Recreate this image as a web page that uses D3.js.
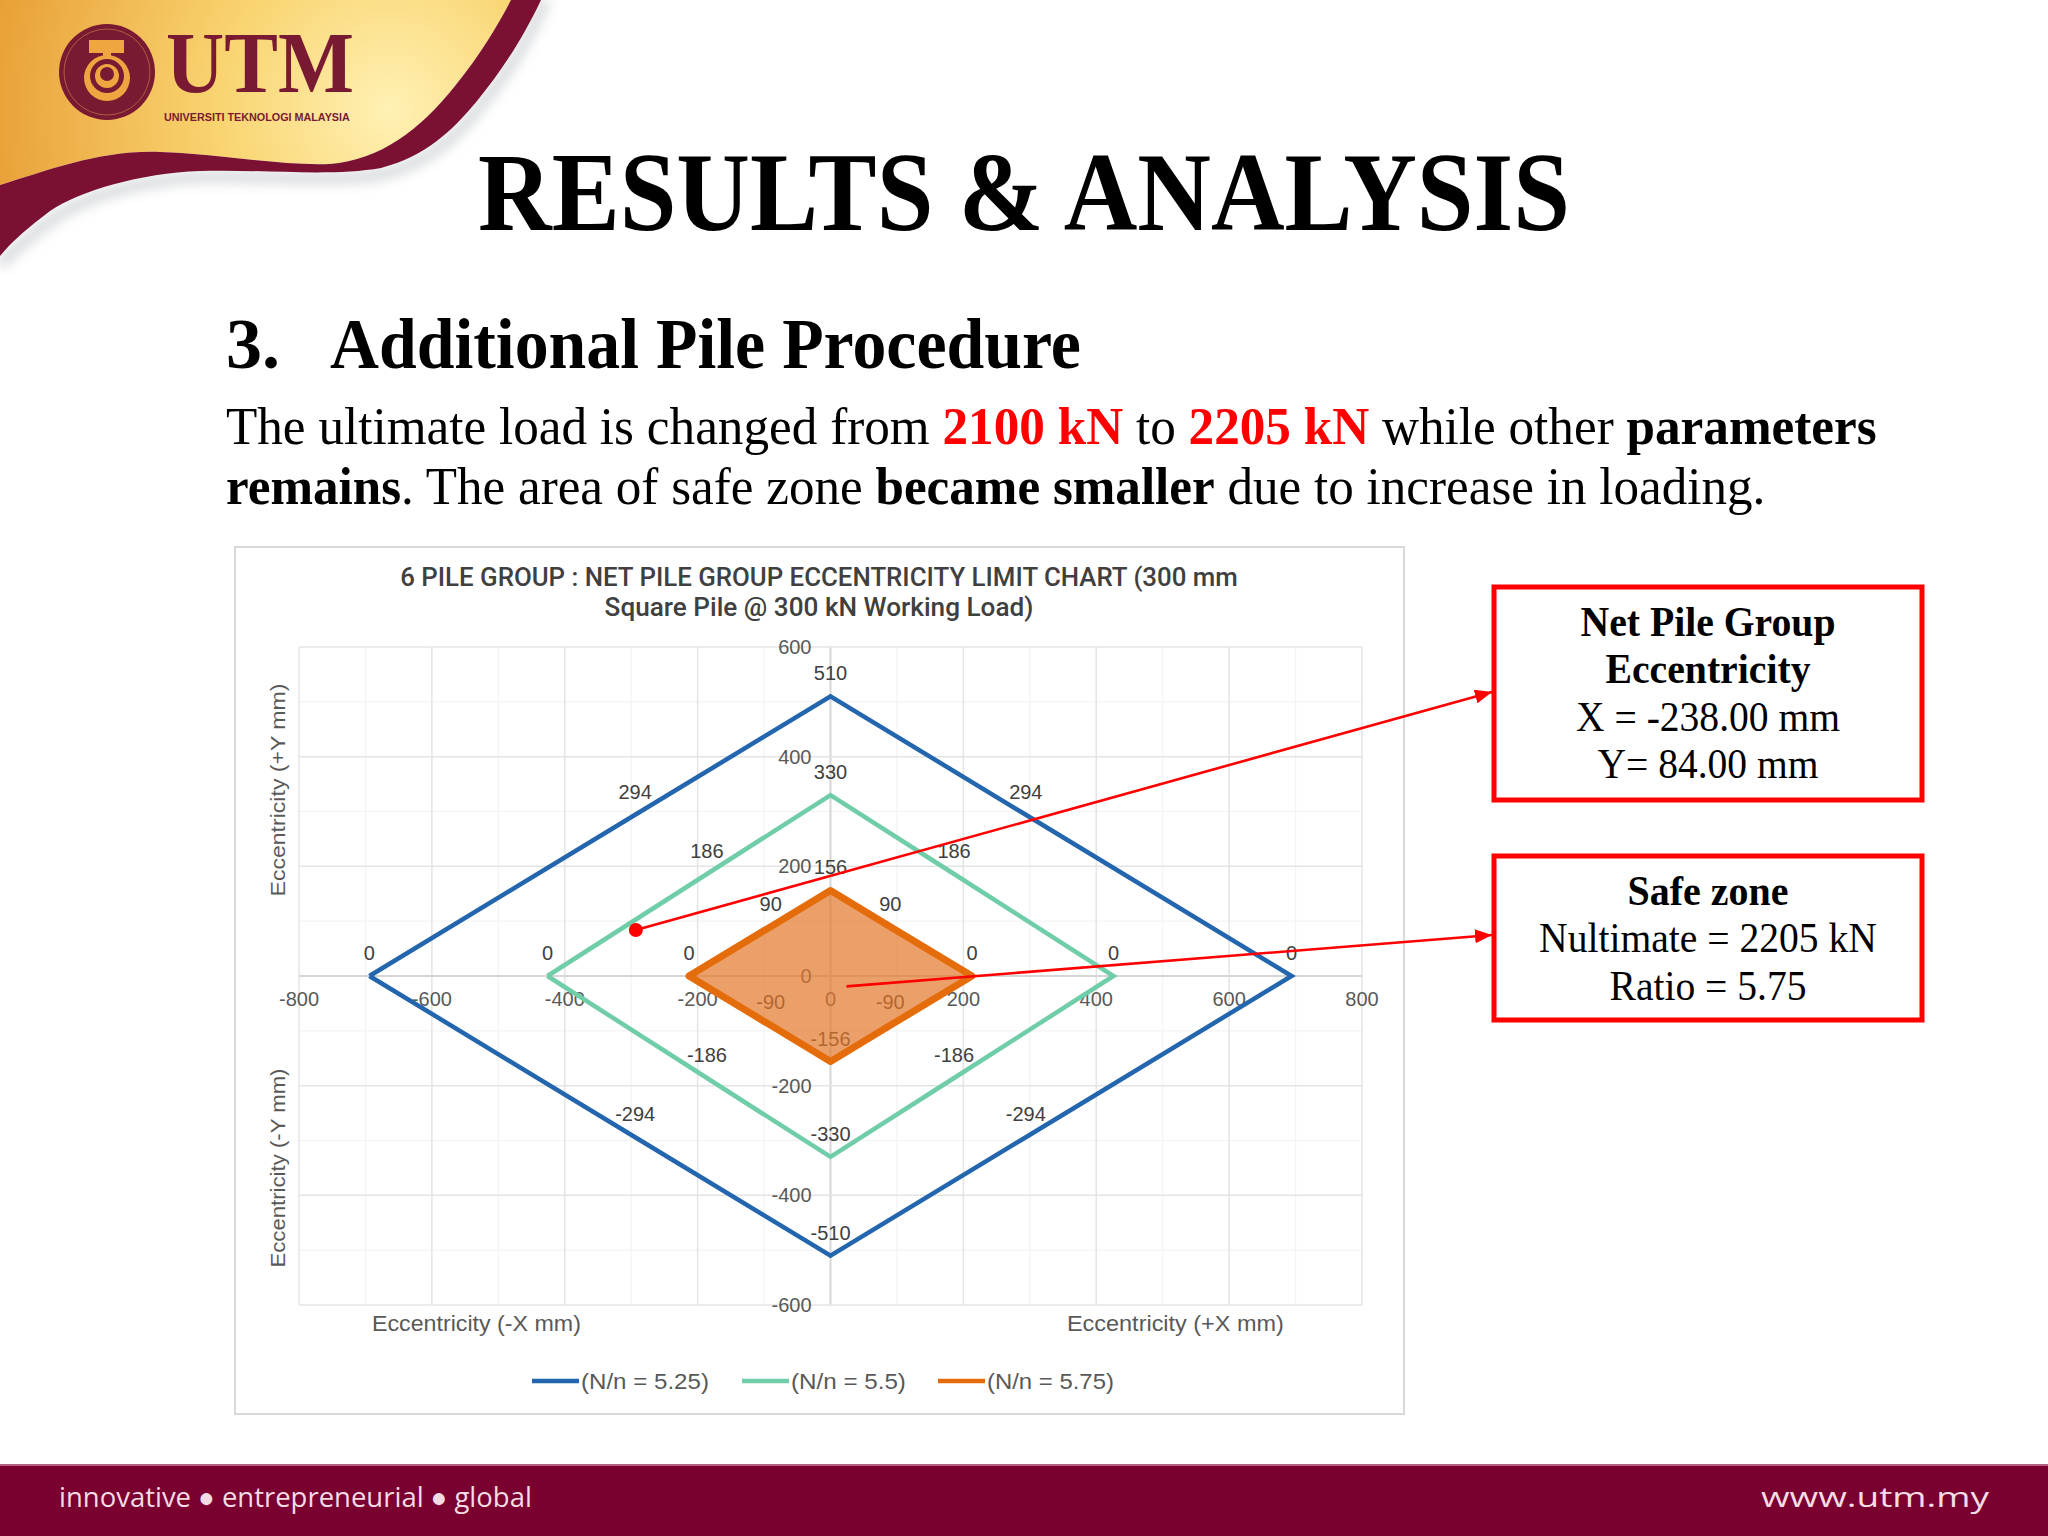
<!DOCTYPE html>
<html><head><meta charset="utf-8">
<script src="https://cdn.jsdelivr.net/npm/d3@7"></script>
<style>html,body{margin:0;padding:0;background:#fff;}svg{display:block}</style>
</head><body>
<script>
// ---------- DATA ----------
const seriesNames = ["(N/n = 5.25)", "(N/n = 5.5)", "(N/n = 5.75)"];
const seriesColors = ["#2366AE", "#6FCDA7", "#E46C0A"];
// N/n = 5.25
const blueX  = [-694, -294, 0, 294, 694, 294, 0, -294, -694];
const blueY  = [0, 294, 510, 294, 0, -294, -510, -294, 0];
// N/n = 5.5
const greenX = [-426, -186, 0, 186, 426, 186, 0, -186, -426];
const greenY = [0, 186, 330, 186, 0, -186, -330, -186, 0];
// N/n = 5.75 (safe zone)
const orangeX = [-213, -90, 0, 90, 213, 90, 0, -90, -213];
const orangeY = [0, 90, 156, 90, 0, -90, -156, -90, 0];
const xTicks = [-800, -600, -400, -200, 0, 200, 400, 600, 800];
const yTicks = [-600, -400, -200, 0, 200, 400, 600];
const xMinor = [-700, -500, -300, -100, 100, 300, 500, 700];
const yMinor = [-500, -300, -100, 100, 300, 500];
// annotation anchor points (as drawn on the slide, chart units)
const pointerEcc = [-293, 84];
const pointerZone = [24, -19];

const W = 2048, H = 1536;
const svg = d3.select("body").append("svg").attr("width", W).attr("height", H);
const defs = svg.append("defs");

function fit(sel, target) {
  const w = sel.node().getComputedTextLength();
  const x0 = +sel.attr("x");
  const s = target / w;
  sel.attr("transform", `translate(${x0},0) scale(${s},1) translate(${-x0},0)`);
  return sel;
}

// ---------- SLIDE BACKGROUND ----------
svg.append("rect").attr("width", W).attr("height", H).attr("fill", "#fff");

const rg = defs.append("radialGradient").attr("id", "gold")
  .attr("gradientUnits", "userSpaceOnUse").attr("cx", 390).attr("cy", 110).attr("r", 430);
rg.append("stop").attr("offset", 0).attr("stop-color", "#FFF1B4");
rg.append("stop").attr("offset", 0.4).attr("stop-color", "#F9D470");
rg.append("stop").attr("offset", 1).attr("stop-color", "#E79A31");

const blur = defs.append("filter").attr("id", "blur").attr("x", "-20%").attr("y", "-20%").attr("width", "140%").attr("height", "140%");
blur.append("feGaussianBlur").attr("stdDeviation", 6);

svg.append("path")
  .attr("d", "M545,0 C526,45 505,75 480,106 C455,138 428,162 384,174 C332,183 262,175 202,177 C142,179 84,197 54,218 C32,234 14,250 0,264")
  .attr("fill", "none").attr("stroke", "#bfc4c8").attr("stroke-width", 12).attr("opacity", 0.6).attr("filter", "url(#blur)");

svg.append("path")
  .attr("d", "M0,0 L511,0 C498,25 480,55 455,86 C420,130 380,160 330,164 C280,166 220,154 160,152 C100,150 50,170 0,185 Z")
  .attr("fill", "url(#gold)");
svg.append("path")
  .attr("d", "M511,0 L541,0 C522,40 502,70 477,101 C452,131 426,156 381,168 C330,177 260,169 200,171 C140,173 80,191 50,211 C30,226 12,241 0,256 L0,185 C50,170 100,150 160,152 C220,154 280,166 330,164 C380,160 420,130 455,86 C480,55 498,25 511,0 Z")
  .attr("fill", "#7A1032");

// logo
const logo = svg.append("g").attr("transform", "translate(107,72)");
logo.append("circle").attr("r", 48).attr("fill", "#7A1A32");
logo.append("circle").attr("r", 43).attr("fill", "none").attr("stroke", "#C9874A").attr("stroke-width", 1).attr("opacity", 0.6);
logo.append("rect").attr("x", -18).attr("y", -32).attr("width", 35).attr("height", 13).attr("fill", "#F0A640");
logo.append("rect").attr("x", -4).attr("y", -20).attr("width", 8).attr("height", 14).attr("fill", "#F0A640");
logo.append("circle").attr("cy", 6).attr("r", 23).attr("fill", "#F0A640");
logo.append("circle").attr("cy", 4).attr("r", 17).attr("fill", "#7A1A32");
logo.append("circle").attr("cy", 4).attr("r", 12).attr("fill", "#F0A640");
logo.append("circle").attr("cy", 2).attr("r", 7).attr("fill", "#7A1A32");
fit(svg.append("text").attr("x", 166).attr("y", 92).attr("font-family", "Liberation Serif").attr("font-weight", "bold")
  .attr("font-size", 86).attr("fill", "#7A1A32").text("UTM"), 188);
fit(svg.append("text").attr("x", 164).attr("y", 121).attr("font-family", "Liberation Sans").attr("font-weight", "bold")
  .attr("font-size", 10).attr("fill", "#7A1A32").text("UNIVERSITI TEKNOLOGI MALAYSIA"), 186);

// footer
svg.append("rect").attr("x", 0).attr("y", 1464).attr("width", W).attr("height", 72).attr("fill", "#7A0030");
svg.append("rect").attr("x", 0).attr("y", 1464).attr("width", W).attr("height", 2).attr("fill", "#B4607E");
fit(svg.append("text").attr("x", 59).attr("y", 1507).attr("font-family", "Open Sans").attr("font-size", 28)
  .attr("fill", "#F3DCE4").text("innovative \u25CF entrepreneurial \u25CF global"), 473);
fit(svg.append("text").attr("x", 1761).attr("y", 1507).attr("font-family", "Open Sans").attr("font-size", 28)
  .attr("fill", "#F3DCE4").text("www.utm.my"), 228);

// ---------- TITLES ----------
fit(svg.append("text").attr("x", 478).attr("y", 230).attr("font-family", "Liberation Serif").attr("font-weight", "bold")
  .attr("font-size", 112).attr("fill", "#000").text("RESULTS & ANALYSIS"), 1092);

svg.append("text").attr("x", 226).attr("y", 368).attr("font-family", "Liberation Serif").attr("font-weight", "bold")
  .attr("font-size", 72).attr("fill", "#000").text("3.");
fit(svg.append("text").attr("x", 330).attr("y", 368).attr("font-family", "Liberation Serif").attr("font-weight", "bold")
  .attr("font-size", 72).attr("fill", "#000").text("Additional Pile Procedure"), 751);

function richLine(x, y, parts, target) {
  const t = svg.append("text").attr("x", x).attr("y", y).attr("font-family", "Liberation Serif")
    .attr("font-size", 52).attr("fill", "#000").attr("xml:space", "preserve");
  parts.forEach(p => {
    t.append("tspan").attr("font-weight", p.b ? "bold" : "normal").attr("fill", p.c || "#000").text(p.t);
  });
  fit(t, target);
}
richLine(226, 444, [
  {t: "The ultimate load is changed from "}, {t: "2100 kN", b: 1, c: "#FF0000"}, {t: " to "},
  {t: "2205 kN", b: 1, c: "#FF0000"}, {t: " while other "}, {t: "parameters", b: 1}], 1651);
richLine(226, 504, [
  {t: "remains", b: 1}, {t: ". The area of safe zone "}, {t: "became smaller", b: 1},
  {t: " due to increase in loading."}], 1540);

// ---------- CHART ----------
svg.append("rect").attr("x", 235).attr("y", 547).attr("width", 1169).attr("height", 867)
  .attr("fill", "#fff").attr("stroke", "#D9D9D9").attr("stroke-width", 2);

const x = d3.scaleLinear().domain([-800, 800]).range([299, 1362]);
const y = d3.scaleLinear().domain([-600, 600]).range([1305, 647]);
const chart = svg.append("g");

const sans = "Liberation Sans";
fit(chart.append("text").attr("x", 819).attr("y", 586).attr("text-anchor", "middle").attr("font-family", "Roboto")
  .attr("font-weight", 500).attr("font-size", 25).attr("fill", "#404040")
  .text("6 PILE  GROUP : NET PILE GROUP ECCENTRICITY  LIMIT CHART (300 mm"), 838);
fit(chart.append("text").attr("x", 819).attr("y", 616).attr("text-anchor", "middle").attr("font-family", "Roboto")
  .attr("font-weight", 500).attr("font-size", 25).attr("fill", "#404040")
  .text("Square Pile @ 300 kN Working Load)"), 429);

// minor grid
chart.selectAll(".vminor").data(xMinor).join("line").attr("x1", d => x(d)).attr("x2", d => x(d))
  .attr("y1", y(600)).attr("y2", y(-600)).attr("stroke", "#F3F3F3").attr("stroke-width", 1.2);
chart.selectAll(".hminor").data(yMinor).join("line").attr("y1", d => y(d)).attr("y2", d => y(d))
  .attr("x1", x(-800)).attr("x2", x(800)).attr("stroke", "#F3F3F3").attr("stroke-width", 1.2);
// major grid
chart.selectAll(".vgrid").data(xTicks).join("line").attr("x1", d => x(d)).attr("x2", d => x(d))
  .attr("y1", y(600)).attr("y2", y(-600)).attr("stroke", d => d === 0 ? "#D6D6D6" : "#E4E4E4").attr("stroke-width", d => d === 0 ? 2 : 1.5);
chart.selectAll(".hgrid").data(yTicks).join("line").attr("y1", d => y(d)).attr("y2", d => y(d))
  .attr("x1", x(-800)).attr("x2", x(800)).attr("stroke", d => d === 0 ? "#D6D6D6" : "#E4E4E4").attr("stroke-width", d => d === 0 ? 2 : 1.5);

// tick labels
chart.selectAll(".xt").data(xTicks).join("text").attr("x", d => x(d)).attr("y", y(0) + 30)
  .attr("text-anchor", "middle").attr("font-family", sans).attr("font-size", 20).attr("fill", "#595959")
  .text(d => d);
chart.selectAll(".yt").data(yTicks).join("text").attr("x", x(0) - 19).attr("y", d => y(d) + 7)
  .attr("text-anchor", "end").attr("font-family", sans).attr("font-size", 20).attr("fill", "#595959")
  .text(d => d);

// axis titles
chart.append("text").attr("transform", `translate(285,790) rotate(-90)`).attr("text-anchor", "middle")
  .attr("font-family", sans).attr("font-size", 21).attr("fill", "#595959")
  .attr("textLength", 213).attr("lengthAdjust", "spacingAndGlyphs").text("Eccentricity (+Y mm)");
chart.append("text").attr("transform", `translate(285,1168) rotate(-90)`).attr("text-anchor", "middle")
  .attr("font-family", sans).attr("font-size", 21).attr("fill", "#595959")
  .attr("textLength", 199).attr("lengthAdjust", "spacingAndGlyphs").text("Eccentricity (-Y mm)");
fit(chart.append("text").attr("x", 372).attr("y", 1331).attr("font-family", sans).attr("font-size", 22)
  .attr("fill", "#595959").text("Eccentricity (-X mm)"), 209);
fit(chart.append("text").attr("x", 1067).attr("y", 1331).attr("font-family", sans).attr("font-size", 22)
  .attr("fill", "#595959").text("Eccentricity (+X mm)"), 217);

// series
const seriesData = [
  blueX.map((v, i) => [v, blueY[i]]),
  greenX.map((v, i) => [v, greenY[i]]),
  orangeX.map((v, i) => [v, orangeY[i]])
];
const line = d3.line().x(d => x(d[0])).y(d => y(d[1]));

// data labels
seriesData.forEach(pts => {
  chart.append("g").selectAll("text").data(pts.slice(0, -1)).join("text")
    .attr("x", d => x(d[0])).attr("y", d => y(d[1]) - 16).attr("text-anchor", "middle")
    .attr("font-family", sans).attr("font-size", 20).attr("fill", "#404040").text(d => d[1]);
});

chart.append("path").attr("d", line(seriesData[0])).attr("fill", "none")
  .attr("stroke", seriesColors[0]).attr("stroke-width", 4.5).attr("stroke-linejoin", "miter");
chart.append("path").attr("d", line(seriesData[1])).attr("fill", "none")
  .attr("stroke", seriesColors[1]).attr("stroke-width", 4.5).attr("stroke-linejoin", "miter");
chart.append("path").attr("d", line(seriesData[2]) + "Z").attr("fill", "#E4782A").attr("fill-opacity", 0.7)
  .attr("stroke", seriesColors[2]).attr("stroke-width", 7).attr("stroke-linejoin", "round");

// legend
const legX = [532, 742, 938];
const legTW = [128, 115, 127];
seriesNames.forEach((n, i) => {
  chart.append("line").attr("x1", legX[i]).attr("x2", legX[i] + 47).attr("y1", 1381).attr("y2", 1381)
    .attr("stroke", seriesColors[i]).attr("stroke-width", 4.5);
  fit(chart.append("text").attr("x", legX[i] + 49).attr("y", 1389).attr("font-family", sans)
    .attr("font-size", 22).attr("fill", "#595959").text(n), legTW[i]);
});

// ---------- ANNOTATIONS ----------
defs.append("marker").attr("id", "arrow").attr("markerUnits", "userSpaceOnUse")
  .attr("markerWidth", 18).attr("markerHeight", 14).attr("refX", 17).attr("refY", 7).attr("orient", "auto")
  .append("path").attr("d", "M0,0 L17,7 L0,14 Z").attr("fill", "#FF0000");

svg.append("line").attr("x1", x(pointerEcc[0])).attr("y1", y(pointerEcc[1])).attr("x2", 1492).attr("y2", 692)
  .attr("stroke", "#FF0000").attr("stroke-width", 2.6).attr("marker-end", "url(#arrow)");
svg.append("circle").attr("cx", x(pointerEcc[0])).attr("cy", y(pointerEcc[1])).attr("r", 7).attr("fill", "#FF0000");
svg.append("line").attr("x1", x(pointerZone[0])).attr("y1", y(pointerZone[1])).attr("x2", 1492).attr("y2", 935)
  .attr("stroke", "#FF0000").attr("stroke-width", 2.6).attr("marker-end", "url(#arrow)");

svg.append("rect").attr("x", 1494).attr("y", 587).attr("width", 428).attr("height", 213)
  .attr("fill", "#fff").attr("stroke", "#FF0000").attr("stroke-width", 5);
svg.append("rect").attr("x", 1494).attr("y", 856).attr("width", 428).attr("height", 164)
  .attr("fill", "#fff").attr("stroke", "#FF0000").attr("stroke-width", 5);

function boxLine(cx, by, txt, bold, target) {
  fit(svg.append("text").attr("x", cx).attr("y", by).attr("text-anchor", "middle").attr("font-family", "Liberation Serif")
    .attr("font-weight", bold ? "bold" : "normal").attr("font-size", 42).attr("fill", "#000").text(txt), target);
}
boxLine(1708, 636, "Net Pile Group", true, 255);
boxLine(1708, 683, "Eccentricity", true, 205);
boxLine(1708, 731, "X = -238.00 mm", false, 264);
boxLine(1708, 778, "Y= 84.00 mm", false, 221);
boxLine(1708, 905, "Safe zone", true, 161);
boxLine(1708, 952, "Nultimate = 2205 kN", false, 338);
boxLine(1708, 1000, "Ratio = 5.75", false, 197);
</script>
</body></html>
